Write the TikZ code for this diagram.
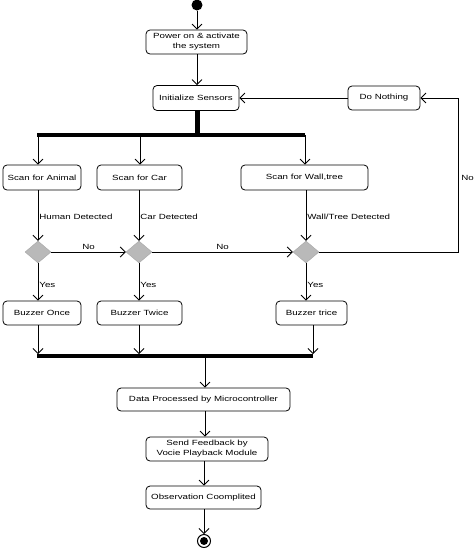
\documentclass[tikz,border=0pt]{standalone}
\usepackage{fontspec}
\setmainfont[FakeStretch=1.3]{Liberation Sans}
\usetikzlibrary{arrows.meta,shapes.geometric}
\begin{document}
\begin{tikzpicture}[x=1pt,y=-1pt,
  act/.style={draw, rounded corners=4pt, line width=0.8pt, minimum height=24pt, align=center, font=\fontsize{7.5}{10}\selectfont, inner sep=1pt},
  dec/.style={diamond, draw=gray!70, fill=gray!55, minimum width=26pt, minimum height=22pt, inner sep=0pt},
  flow/.style={line width=0.8pt, -{Straight Barb[length=5pt,width=10pt]}},
  bar/.style={line width=4pt},
  lbl/.style={font=\fontsize{7.5}{10}\selectfont, inner sep=1pt}]
\useasboundingbox (0,0) rectangle (474,550);
% start / end
\node[circle, fill=black, minimum size=11pt, inner sep=0pt] (start) at (197,5) {};
\node[circle, draw, line width=1pt, minimum size=13pt, inner sep=0pt] (endo) at (204,541) {};
\node[circle, fill=black, minimum size=8pt, inner sep=0pt] (endi) at (204,541) {};
% activities
\node[act, minimum width=101pt] (power) at (196.5,42) {Power on \& activate\\ the system};
\node[act, minimum width=86pt, minimum height=25pt] (init) at (196,98) {Initialize Sensors};
\node[act, minimum width=72pt] (nothing) at (384,98) {Do Nothing};
\node[act, minimum width=78pt, minimum height=25pt] (scanA) at (42,177.5) {Scan for Animal};
\node[act, minimum width=85pt, minimum height=25pt] (scanC) at (139.5,177.5) {Scan for Car};
\node[act, minimum width=127pt, minimum height=25pt] (scanW) at (304.5,177.5) {Scan for Wall,tree};
\node[act, minimum width=78pt] (buzzO) at (42,313) {Buzzer Once};
\node[act, minimum width=85pt] (buzzT) at (139.5,313) {Buzzer Twice};
\node[act, minimum width=71pt] (buzzR) at (311.5,313) {Buzzer trice};
\node[act, minimum width=173pt, minimum height=23pt] (data) at (203.5,399.5) {Data Processed by Microcontroller};
\node[act, minimum width=122pt] (send) at (207,449) {Send Feedback by\\ Vocie Playback Module};
\node[act, minimum width=115pt, minimum height=23pt] (obs) at (203.5,497.5) {Observation Coomplited};
% decisions
\node[dec] (d1) at (38,252) {};
\node[dec] (d2) at (139,252) {};
\node[dec] (d3) at (306,252) {};
% fork / join coordinates
\coordinate (fL) at (37,135);
\coordinate (fR) at (305,135);
\coordinate (fA) at (38,135);
\coordinate (fC) at (140,135);
\coordinate (fW) at (305,135);
\coordinate (fI) at (197,135);
\coordinate (jL) at (37,356);
\coordinate (jR) at (313,356);
\coordinate (jA) at (38,354);
\coordinate (jC) at (139,354);
\coordinate (jW) at (313,354);
\coordinate (jD) at (205,356);
\coordinate (rc1) at (458,252);
\coordinate (rc2) at (458,98);
% bars
\draw[bar] (fL) -- (fR);
\draw[bar] (jL) -- (jR);
\draw[line width=5pt] (fI |- init.south) -- (fI);
% flows
\draw[flow] (start) -- (start |- power.north);
\draw[flow] (power.south -| start) -- (init.north -| start);
\draw[flow] (nothing.west) -- (init.east);
\draw[flow] (fA) -- (fA |- scanA.north);
\draw[flow] (fC) -- (fC |- scanC.north);
\draw[flow] (fW) -- (fW |- scanW.north);
\draw[flow] (d1 |- scanA.south) -- (d1.north) node[lbl, pos=0.53, anchor=west] {Human Detected};
\draw[flow] (d2 |- scanC.south) -- (d2.north) node[lbl, pos=0.53, anchor=west] {Car Detected};
\draw[flow] (d3 |- scanW.south) -- (d3.north) node[lbl, pos=0.53, anchor=west] {Wall/Tree Detected};
\draw[flow] (d1.east) -- (d2.west) node[lbl, midway, above=1pt] {No};
\draw[flow] (d2.east) -- (d3.west) node[lbl, midway, above=1pt] {No};
\draw[flow] (d3.east) -- (rc1) -- node[lbl, pos=0.48, anchor=west, xshift=2pt] {No} (rc2) -- (nothing.east);
\draw[flow] (d1.south) -- (d1 |- buzzO.north) node[lbl, pos=0.58, anchor=west] {Yes};
\draw[flow] (d2.south) -- (d2 |- buzzT.north) node[lbl, pos=0.58, anchor=west] {Yes};
\draw[flow] (d3.south) -- (d3 |- buzzR.north) node[lbl, pos=0.58, anchor=west] {Yes};
\draw[flow] (jA |- buzzO.south) -- (jA);
\draw[flow] (jC |- buzzT.south) -- (jC);
\draw[flow] (jW |- buzzR.south) -- (jW);
\draw[flow] (jD) -- (jD |- data.north);
\draw[flow] (data.south -| jD) -- (send.north -| jD);
\draw[flow] (send.south -| endo) -- (obs.north -| endo);
\draw[flow] (obs.south -| endo) -- (endo.north);
\end{tikzpicture}
\end{document}
